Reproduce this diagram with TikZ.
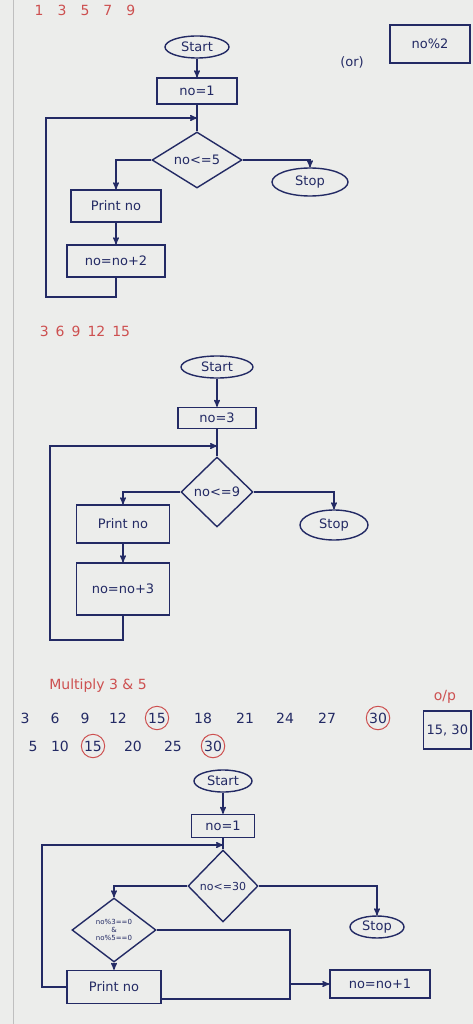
\documentclass[tikz,border=0pt]{standalone}
\usepackage{fontspec}
\setmainfont{DejaVu Sans}
\usetikzlibrary{%
   arrows,%
   shapes.geometric,%
   positioning}
\definecolor{ink}{RGB}{35,42,100}
\definecolor{redink}{RGB}{205,80,80}
\definecolor{paper}{RGB}{236,237,235}

\begin{document}
\begin{tikzpicture}[x=1pt,y=-1pt,>=stealth',color=ink,line width=1.4pt,
	every node/.style={font=\fontsize{13}{15}\selectfont},
	term/.style={draw,ellipse,inner sep=1pt},
	proc/.style={draw,rectangle,inner sep=3pt},
	dec/.style={draw,diamond,inner sep=0pt},
	note/.style={text=redink,font=\fontsize{14}{16}\selectfont},
	num/.style={font=\fontsize{14}{16}\selectfont},
	hit/.style={num,circle,draw=redink,line width=1pt,inner sep=1pt}]
		\fill[paper] (0,0) rectangle (473,1024);
		\useasboundingbox (0,0) rectangle (473,1024);
		\draw[black!25,line width=0.8pt] (13,0) -- (13,1024);
		\node[note] (seq1) at (85,10) {1\quad 3\quad 5\quad 7\quad 9};
		\node[term,minimum width=64pt,minimum height=22pt] (start1) at (197,47) {Start};
		\node[proc,minimum width=80pt,minimum height=26pt] (init1) at (197,91) {no=1};
		\coordinate (join1) at (197,118);
		\node[dec,minimum width=90pt,minimum height=56pt] (cond1) at (197,160) {no<=5};
		\node[proc,minimum width=90pt,minimum height=32pt] (print1) at (116,206) {Print no};
		\node[proc,minimum width=98pt,minimum height=32pt] (inc1) at (116,261) {no=no+2};
		\node[term,minimum width=76pt,minimum height=28pt] (stop1) at (310,182) {Stop};
		\coordinate (back1) at (46,297);
		\node (or1) at (352,62) {(or)};
		\node[proc,minimum width=80pt,minimum height=38pt] (mod1) at (430,44) {no\%2};
		\draw[->] (start1) -- (init1);
		\draw (init1) -- (cond1);
		\draw[->] (inc1.south) |- (back1) |- (join1);
		\draw[->] (cond1.west) -| (print1.north);
		\draw[->] (print1) -- (inc1);
		\draw[->] (cond1.east) -| (stop1.north);

		\node[note] (seq2) at (85,331) {3\enspace 6\enspace 9\enspace 12\enspace 15};
		\node[term,minimum width=72pt,minimum height=22pt] (start2) at (217,367) {Start};
		\node[proc,minimum width=78pt,minimum height=21pt] (init2) at (217,418) {no=3};
		\coordinate (join2) at (217,446);
		\node[dec,minimum width=72pt,minimum height=70pt] (cond2) at (217,492) {no<=9};
		\node[proc,minimum width=93pt,minimum height=38pt] (print2) at (123,524) {Print no};
		\node[proc,minimum width=93pt,minimum height=52pt] (inc2) at (123,589) {no=no+3};
		\node[term,minimum width=68pt,minimum height=30pt] (stop2) at (334,525) {Stop};
		\coordinate (back2) at (50,640);
		\draw[->] (start2) -- (init2);
		\draw (init2) -- (cond2);
		\draw[->] (inc2.south) |- (back2) |- (join2);
		\draw[->] (cond2.west) -| (print2.north);
		\draw[->] (print2) -- (inc2);
		\draw[->] (cond2.east) -| (stop2.north);

		\node[note] (title3) at (98,686) {Multiply 3 \& 5};
		\foreach \n/\px/\s in {3/25/num,6/55/num,9/85/num,12/118/num,15/157/hit,18/203/num,21/245/num,24/285/num,27/327/num,30/378/hit}
			\node[\s] (a\n) at (\px,718) {\n};
		\foreach \n/\px/\s in {5/33/num,10/60/num,15/93/hit,20/133/num,25/173/num,30/213/hit}
			\node[\s] (b\n) at (\px,746) {\n};
		\node[note] (op3) at (445,697) {o/p};
		\node[proc,anchor=west,minimum height=38pt,inner xsep=3pt] (out3) at (423,730) {15, 30};
		\node[term,minimum width=58pt,minimum height=22pt] (start3) at (223,781) {Start};
		\node[proc,minimum width=63pt,minimum height=23pt] (init3) at (223,826) {no=1};
		\coordinate (join3) at (223,845);
		\node[dec,minimum width=70pt,minimum height=72pt,font=\fontsize{11}{13}\selectfont] (cond3) at (223,886) {no<=30};
		\node[dec,minimum width=84pt,minimum height=64pt,align=center,font=\fontsize{7}{8}\selectfont] (both3) at (114,930) {no\%3==0\\\&\\no\%5==0};
		\node[proc,minimum width=94pt,minimum height=33pt] (print3) at (114,987) {Print no};
		\node[proc,minimum width=100pt,minimum height=28pt] (inc3) at (380,984) {no=no+1};
		\node[term,minimum width=54pt,minimum height=22pt] (stop3) at (377,927) {Stop};
		\coordinate (merge3) at (290,984);
		\coordinate (back3) at (42,845);
		\draw[->] (start3) -- (init3);
		\draw (init3) -- (cond3);
		\draw[->] (cond3.west) -| (both3.north);
		\draw[->] (cond3.east) -| (stop3.north);
		\draw[->] (both3) -- (print3);
		\draw (both3.east) -| (merge3);
		\draw ([yshift=-12pt]print3.east) -| (merge3);
		\draw[->] (merge3) -- (inc3);
		\draw[->] (print3.west) -| (back3) -- (join3);
\end{tikzpicture}
\end{document}
